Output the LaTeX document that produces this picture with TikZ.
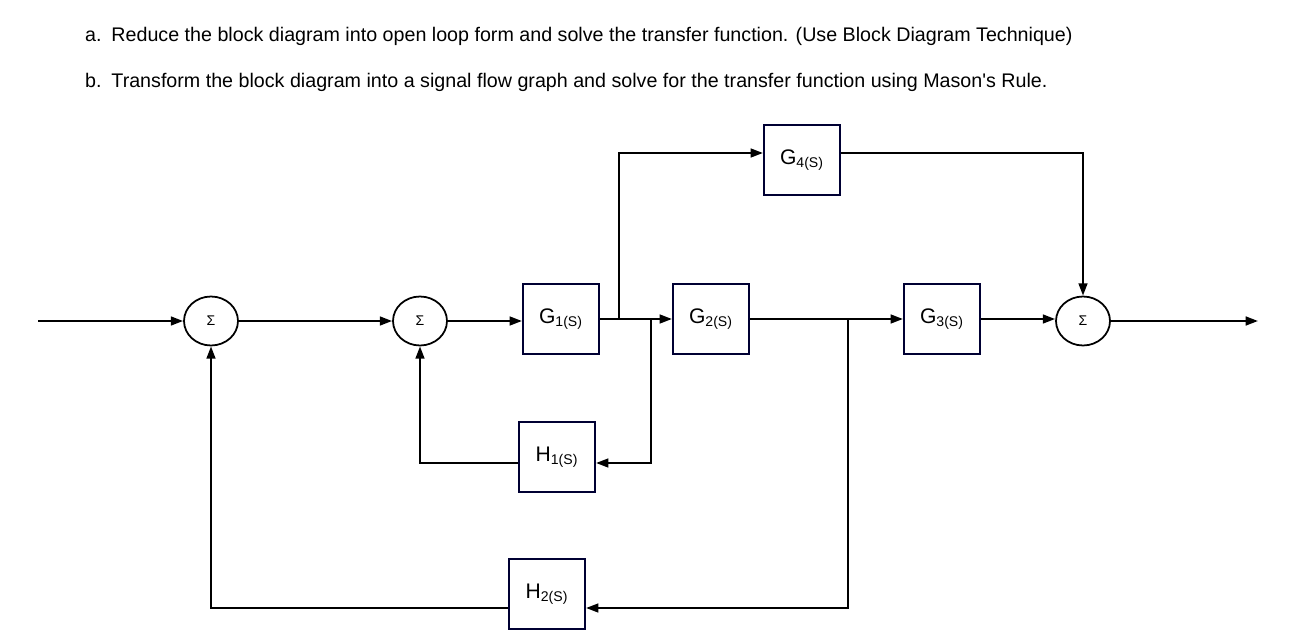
\documentclass[tikz,border=0pt]{standalone}
\usepackage{fontspec}
\setmainfont{Liberation Sans}
\usetikzlibrary{arrows.meta,shapes.geometric}
\begin{document}
\begin{tikzpicture}[x=0.02cm,y=-0.02cm,
 blk/.style={draw=black!80!blue,line width=1.2pt,minimum width=1.52cm,minimum height=1.4cm,inner sep=0pt,font=\fontsize{12}{13}\selectfont},
 sm/.style={draw,ellipse,line width=1pt,minimum width=1.08cm,minimum height=0.98cm,inner sep=0pt,font=\fontsize{8}{9}\selectfont},
 sig/.style={line width=1.2pt},
 arr/.style={sig,-{Triangle[length=7pt,width=5pt]}},
 txt/.style={anchor=west,font=\fontsize{11.2}{13}\selectfont}]
\useasboundingbox (0,0) rectangle (1309,642);
\node[txt] (ta) at (79,36) {a.\enspace Reduce the block diagram into open loop form and solve the transfer function. (Use Block Diagram Technique)};
\node[txt] (tb) at (79,82) {b.\enspace Transform the block diagram into a signal flow graph and solve for the transfer function using Mason\textquotesingle s Rule.};
\node[sm] (s1) at (211,321) {Σ};
\node[sm] (s2) at (420,321) {Σ};
\node[sm] (s3) at (1083,321) {Σ};
\node[blk] (g1) at (561,319) {G\textsubscript{1(S)}};
\node[blk] (g2) at (711,319) {G\textsubscript{2(S)}};
\node[blk] (g3) at (942,319) {G\textsubscript{3(S)}};
\node[blk] (g4) at (802,160) {G\textsubscript{4(S)}};
\node[blk] (h1) at (557,457) {H\textsubscript{1(S)}};
\node[blk] (h2) at (547,594) {H\textsubscript{2(S)}};
\coordinate (in) at (38,321);
\coordinate (out) at (1258,321);
\coordinate (p1) at (619,319);
\coordinate (p2) at (651,319);
\coordinate (p3) at (848,319);
\draw[arr] (in) -- (s1);
\draw[arr] (s1) -- (s2);
\draw[arr] (s2) -- (s2 -| g1.west);
\draw[arr] (g1) -- (g2);
\draw[arr] (g2) -- (g3);
\draw[arr] (g3) -- (g3 -| s3.west);
\draw[arr] (s3) -- (out);
\draw[arr] (p1) |- ([yshift=7*0.02cm]g4.west);
\draw[arr] ([yshift=7*0.02cm]g4.east) -| (s3);
\draw[arr] (p2) |- ([yshift=-6*0.02cm]h1.east);
\draw[arr] ([yshift=-6*0.02cm]h1.west) -| (s2);
\draw[arr] (p3) |- ([yshift=-14*0.02cm]h2.east);
\draw[arr] ([yshift=-14*0.02cm]h2.west) -| (s1);
\end{tikzpicture}
\end{document}
